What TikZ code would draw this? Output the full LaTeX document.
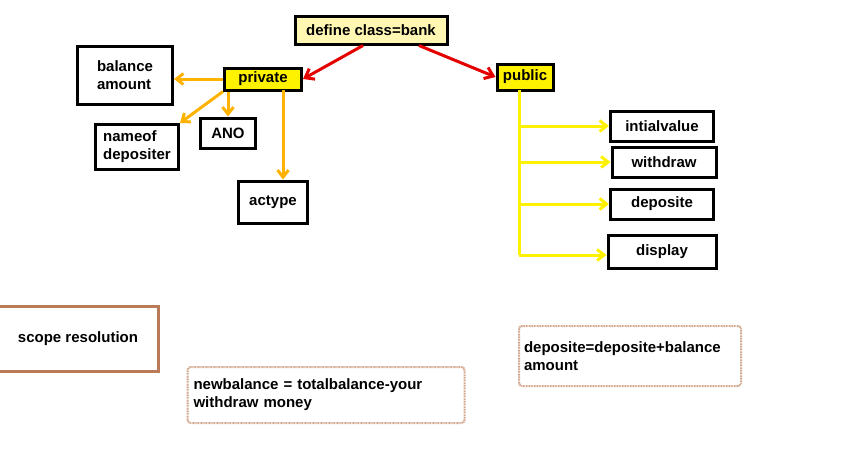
\documentclass[tikz,border=0pt]{standalone}
\usepackage{fontspec}
\usetikzlibrary{arrows.meta}
\setmainfont{Liberation Sans}
\definecolor{brn}{HTML}{B97A57}
\definecolor{lbrn}{HTML}{D2A890}
\begin{document}
\begin{tikzpicture}[x=1pt,y=-1pt,
  ft/.style={font=\bfseries\fontsize{15}{18}\selectfont},
  bx/.style={ft,draw=black,line width=3pt,inner sep=0pt,align=left},
  br/.style={ft,draw=brn,line width=3pt,inner sep=0pt,align=left},
  bd/.style={ft,draw=lbrn,line width=2pt,dash pattern=on 1pt off 0.6pt,rounded corners=3pt,inner sep=0pt,align=left},
  ra/.style={draw=red!90!black,line width=3pt,-{Straight Barb[length=8pt,width=12pt]}},
  oa/.style={draw=orange!60!yellow,line width=3pt,-{Straight Barb[length=7pt,width=11pt]}},
  ya/.style={draw=yellow,line width=3pt,-{Straight Barb[length=7pt,width=11pt]}}]
\useasboundingbox (0,0) rectangle (857,450);
\node[bx,fill=orange!20!yellow!30,minimum width=152,minimum height=28] (def) at (371,30) {define class=bank};
\node[bx,fill=yellow,minimum width=77,minimum height=22] (pri) at (263,79) {private};
\node[bx,fill=yellow,minimum width=56,minimum height=26,anchor=center] (pub) at (525,77) {public};
\node[bx,minimum width=95,minimum height=58] (bal) at (125,75) {balance\\amount};
\node[bx,minimum width=83,minimum height=45] (nam) at (137,147) {nameof\\depositer};
\node[bx,minimum width=55,minimum height=30] (ano) at (228,133) {ANO};
\node[bx,minimum width=69,minimum height=42] (act) at (273,202) {actype};
\node[bx,minimum width=103,minimum height=30] (ini) at (662,126) {intialvalue};
\node[bx,minimum width=104,minimum height=30] (wit) at (664,162) {withdraw};
\node[bx,minimum width=103,minimum height=30] (dep) at (662,204) {deposite};
\node[bx,minimum width=108,minimum height=33] (dis) at (662,252) {display};
\node[br,minimum width=161,minimum height=65] (sco) at (78,339) {scope resolution};
\node[bd,minimum width=277,minimum height=56,text width=265] (nb) at (326,395) {newbalance = totalbalance-your\\withdraw money};
\node[bd,minimum width=222,minimum height=60,text width=212] (db) at (630,356) {deposite=deposite+balance\\amount};
\draw[ra] ([xshift=-8]def.south) -- (pri.east);
\draw[ra] ([xshift=48]def.south) -- (pub.west);
\draw[oa] (pri.west) -- (bal.east|-pri.west);
\draw[oa] (pri.south west) -- (nam.north east);
\draw[oa] (ano.north|-pri.south) -- (ano.north);
\coordinate (pa) at (283,90);
\draw[oa] (pa) -- (pa|-act.north);
\coordinate (v) at (519,90);
\coordinate (ve) at (519,255);
\draw[draw=yellow,line width=3pt] (v) -- (ve);
\draw[ya] (v|-ini.west) -- (ini.west);
\draw[ya] (v|-wit.west) -- (wit.west);
\draw[ya] (v|-dep.west) -- (dep.west);
\draw[ya] (ve) -- (dis.west|-ve);
\end{tikzpicture}
\end{document}
